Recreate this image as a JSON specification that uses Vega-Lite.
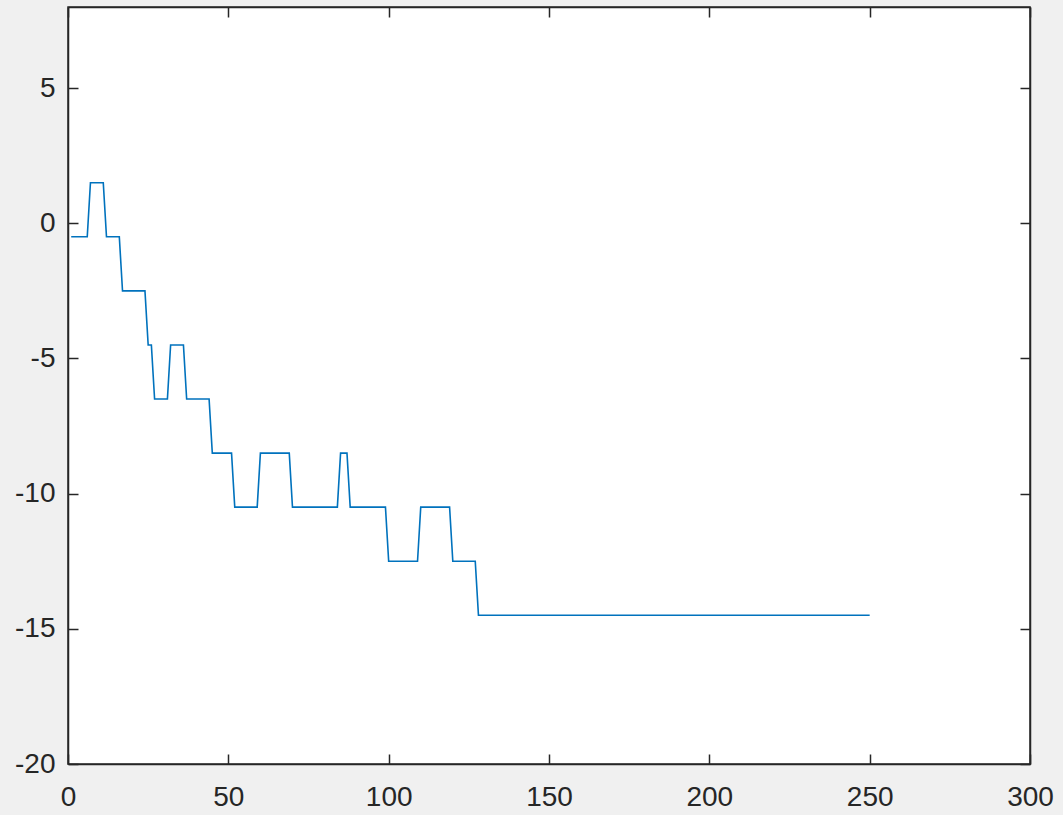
{
  "$schema": "https://vega.github.io/schema/vega-lite/v6.json",
  "width": 962,
  "height": 757,
  "autosize": {"type": "none"},
  "padding": {"left": 68, "top": 7, "right": 33, "bottom": 51},
  "background": "#f0f0f0",
  "config": {
    "view": {"fill": "white", "stroke": "#262626", "strokeWidth": 1.5},
    "axis": {
      "grid": false,
      "domainColor": "#262626",
      "domainWidth": 1.5,
      "tickColor": "#262626",
      "tickWidth": 1.5,
      "tickSize": -10,
      "labelColor": "#262626",
      "labelFont": "Liberation Sans",
      "labelFontSize": 28,
      "labelExpr": "toString(datum.value)",
      "title": null
    }
  },
  "data": {
    "values": [
      {"x": 1, "y": -0.5}, {"x": 6, "y": -0.5}, {"x": 7, "y": 1.5}, {"x": 11, "y": 1.5},
      {"x": 12, "y": -0.5}, {"x": 16, "y": -0.5}, {"x": 17, "y": -2.5}, {"x": 24, "y": -2.5},
      {"x": 25, "y": -4.5}, {"x": 26, "y": -4.5}, {"x": 27, "y": -6.5}, {"x": 31, "y": -6.5},
      {"x": 32, "y": -4.5}, {"x": 36, "y": -4.5}, {"x": 37, "y": -6.5}, {"x": 44, "y": -6.5},
      {"x": 45, "y": -8.5}, {"x": 51, "y": -8.5}, {"x": 52, "y": -10.5}, {"x": 59, "y": -10.5},
      {"x": 60, "y": -8.5}, {"x": 69, "y": -8.5}, {"x": 70, "y": -10.5}, {"x": 84, "y": -10.5},
      {"x": 85, "y": -8.5}, {"x": 87, "y": -8.5}, {"x": 88, "y": -10.5}, {"x": 99, "y": -10.5},
      {"x": 100, "y": -12.5}, {"x": 109, "y": -12.5}, {"x": 110, "y": -10.5}, {"x": 119, "y": -10.5},
      {"x": 120, "y": -12.5}, {"x": 127, "y": -12.5}, {"x": 128, "y": -14.5}, {"x": 250, "y": -14.5}
    ]
  },
  "layer": [
    {
      "mark": {"type": "line", "color": "#0072BD", "strokeWidth": 1.6},
      "encoding": {
        "x": {
          "field": "x", "type": "quantitative",
          "scale": {"domain": [0, 300], "nice": false, "zero": false},
          "axis": {"orient": "bottom", "values": [0, 50, 100, 150, 200, 250, 300], "labelPadding": 29, "labelFlush": false}
        },
        "y": {
          "field": "y", "type": "quantitative",
          "scale": {"domain": [-20, 8], "nice": false, "zero": false},
          "axis": {"orient": "left", "values": [-20, -15, -10, -5, 0, 5], "labelPadding": 23, "labelFlush": false}
        }
      }
    },
    {
      "mark": {"type": "point", "opacity": 0},
      "encoding": {
        "x": {
          "field": "x", "type": "quantitative",
          "axis": {"orient": "top", "values": [0, 50, 100, 150, 200, 250, 300], "labels": false}
        },
        "y": {
          "field": "y", "type": "quantitative",
          "axis": {"orient": "right", "values": [-20, -15, -10, -5, 0, 5], "labels": false}
        }
      }
    }
  ],
  "resolve": {"axis": {"x": "independent", "y": "independent"}}
}
